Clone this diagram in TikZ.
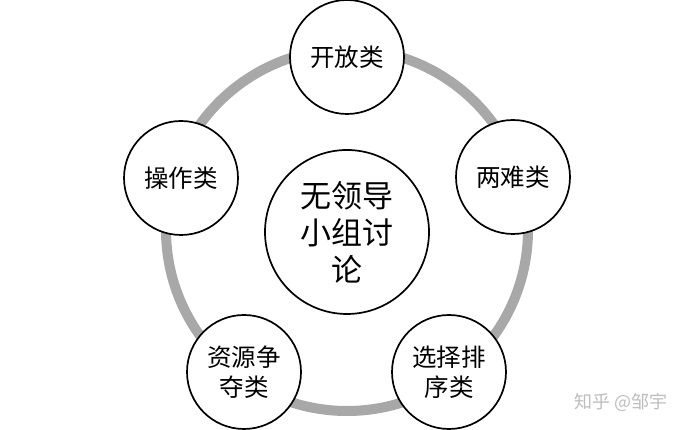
\documentclass[tikz,border=0pt]{standalone}
\usepackage{fontspec}
\setmainfont{Noto Sans CJK SC}
\usepackage{tikz}
\definecolor{ringgray}{RGB}{168,168,168}
\definecolor{markgray}{RGB}{190,190,190}
\tikzset{
  topic/.style={circle,draw=black,line width=1.7pt,fill=white,minimum size=114pt,inner sep=0pt,align=center,font=\fontsize{24.5}{30}\selectfont},
  hub/.style={topic,minimum size=164pt,font=\fontsize{31}{37}\selectfont},
  ring/.style={draw=ringgray,line width=10pt}
}

\begin{document}
\begin{tikzpicture}[x=1pt,y=1pt]
 \useasboundingbox[fill=white] (0,0) rectangle (694,430);
 \coordinate (o) at (347,200);
 \draw[ring] (o) circle (181);
 \node[hub] (main) at (347,198) {无领导\\小组讨\\论};
 \node[topic] (open) at (347,373) {开放类};
 \node[topic] (dil) at (513,253) {两难类};
 \node[topic] (op) at (181,252) {操作类};
 \node[topic] (rank) at (449,58) {选择排\\序类};
 \node[topic] (res) at (244,58) {资源争\\夺类};
 \node[text=markgray,font=\fontsize{18}{20}\selectfont] (mark) at (621,28) {知乎 @邹宇};
\end{tikzpicture}
\end{document}
